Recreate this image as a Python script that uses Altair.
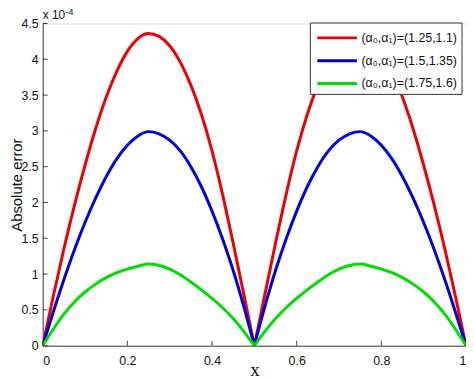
import altair as alt
import pandas as pd

# x positions (step 0.025)
x_vals = [0.0, 0.025, 0.05, 0.075, 0.1, 0.125, 0.15, 0.175, 0.2, 0.225, 0.25,
          0.275, 0.3, 0.325, 0.35, 0.375, 0.4, 0.425, 0.45, 0.475, 0.5,
          0.525, 0.55, 0.575, 0.6, 0.625, 0.65, 0.675, 0.7, 0.725, 0.75,
          0.775, 0.8, 0.825, 0.85, 0.875, 0.9, 0.925, 0.95, 0.975, 1.0]

# absolute error, in units of 1e-4
red = [0.0, 0.69, 1.35, 1.96, 2.52, 3.03, 3.47, 3.83, 4.11, 4.29, 4.36,
       4.32, 4.19, 3.96, 3.64, 3.23, 2.72, 2.11, 1.43, 0.72, 0.0,
       0.72, 1.43, 2.11, 2.72, 3.23, 3.64, 3.96, 4.19, 4.32, 4.36,
       4.29, 4.11, 3.83, 3.47, 3.03, 2.52, 1.96, 1.35, 0.69, 0.0]
blue = [0.0, 0.47, 0.92, 1.34, 1.72, 2.06, 2.36, 2.61, 2.80, 2.93, 2.99,
        2.96, 2.87, 2.72, 2.50, 2.22, 1.88, 1.49, 1.05, 0.55, 0.0,
        0.55, 1.05, 1.49, 1.88, 2.22, 2.50, 2.72, 2.87, 2.96, 2.99,
        2.93, 2.80, 2.61, 2.36, 2.06, 1.72, 1.34, 0.92, 0.47, 0.0]
green = [0.0, 0.23, 0.44, 0.61, 0.75, 0.86, 0.95, 1.02, 1.07, 1.11, 1.14,
         1.12, 1.07, 0.99, 0.89, 0.78, 0.66, 0.53, 0.38, 0.20, 0.0,
         0.20, 0.38, 0.53, 0.66, 0.78, 0.89, 0.99, 1.07, 1.12, 1.14,
         1.11, 1.07, 1.02, 0.95, 0.86, 0.75, 0.61, 0.44, 0.23, 0.0]

labels = ["(α₀,α₁)=(1.25,1.1)", "(α₀,α₁)=(1.5,1.35)", "(α₀,α₁)=(1.75,1.6)"]
colors = ["#ee0000", "#0000dd", "#00dd00"]
y_ticks = [0, 0.5, 1, 1.5, 2, 2.5, 3, 3.5, 4, 4.5]
x_ticks = [0, 0.2, 0.4, 0.6, 0.8, 1]

rows = []
for lab, ser in zip(labels, [red, blue, green]):
    for xv, yv in zip(x_vals, ser):
        # each arch drawn as its own piece so the cusp at 0.5 stays sharp
        if xv <= 0.5:
            rows.append({"x": xv, "y": yv, "series": lab, "arch": 0})
        if xv >= 0.5:
            rows.append({"x": xv, "y": yv, "series": lab, "arch": 1})
df = pd.DataFrame(rows)

W, H = 427, 325
SANS = "Liberation Sans"
AXC = "#404040"
xs = alt.Scale(domain=[0, 1], nice=False, zero=False)
ys = alt.Scale(domain=[0, 4.5], nice=False)

x_axis = alt.Axis(
    values=x_ticks, format="~g", title="x", ticks=False, grid=False,
    labelOverlap=False, labelPadding=9, labelBaseline="top",
    labelFontSize=12.5, labelFont=SANS, labelColor="#111", domainColor=AXC,
    titleFont="Liberation Serif", titleFontSize=19, titleFontWeight="normal",
    titleColor="#111", titleY=30, titleBaseline="alphabetic")
y_axis = alt.Axis(
    values=y_ticks, format="~g", title="Absolute error", ticks=False, grid=False,
    labelOverlap=False, labelPadding=4.5, labelFontSize=12.5, labelFont=SANS,
    labelColor="#111", domainColor=AXC, titleFont=SANS, titleFontSize=15,
    titleFontWeight="normal", titleColor="#111", titleX=-26.5, titleY=H / 2,
    titleAngle=-90, titleBaseline="middle", titleAlign="center")

lines = alt.Chart(df).mark_line(strokeWidth=3, clip=True, interpolate="monotone").encode(
    x=alt.X("x:Q", scale=xs, axis=x_axis),
    y=alt.Y("y:Q", scale=ys, axis=y_axis),
    color=alt.Color("series:N", scale=alt.Scale(domain=labels, range=colors),
                    legend=alt.Legend(
                        orient="none", legendX=269.5, legendY=-1, title=None,
                        symbolType="M-2,0L2,0", symbolSize=400, symbolStrokeWidth=3,
                        symbolOffset=12, labelOffset=13,
                        labelFontSize=12.5, labelFont=SANS, labelColor="#111",
                        fillColor="white", strokeColor="#333", padding=4,
                        rowPadding=5, labelLimit=0)),
    detail="arch:N",
)

ytick = alt.Chart(pd.DataFrame({"y": y_ticks})).mark_rule(color=AXC).encode(
    y=alt.Y("y:Q", scale=ys, axis=y_axis), x=alt.value(0), x2=alt.value(5))
xtick = alt.Chart(pd.DataFrame({"x": x_ticks})).mark_rule(color=AXC).encode(
    x=alt.X("x:Q", scale=xs, axis=x_axis), y=alt.value(H), y2=alt.value(H - 5))

mult = alt.Chart(pd.DataFrame({"t": ["x 10"]})).mark_text(
    align="left", baseline="alphabetic", fontSize=12, font=SANS, color="#111").encode(
    text="t:N", x=alt.value(0), y=alt.value(-5))
sup = alt.Chart(pd.DataFrame({"t": ["-4"]})).mark_text(
    align="left", baseline="alphabetic", fontSize=9, font=SANS, color="#111").encode(
    text="t:N", x=alt.value(23), y=alt.value(-9))

chart = alt.layer(lines, xtick, ytick, mult, sup).properties(
    width=W, height=H,
    autosize=alt.AutoSizeParams(type="none"),
    padding={"left": 35, "top": 14, "right": 0, "bottom": 36},
).configure_view(stroke=None).configure(background="white")

chart.save("out.html", embed_options={"renderer": "svg", "actions": False})
